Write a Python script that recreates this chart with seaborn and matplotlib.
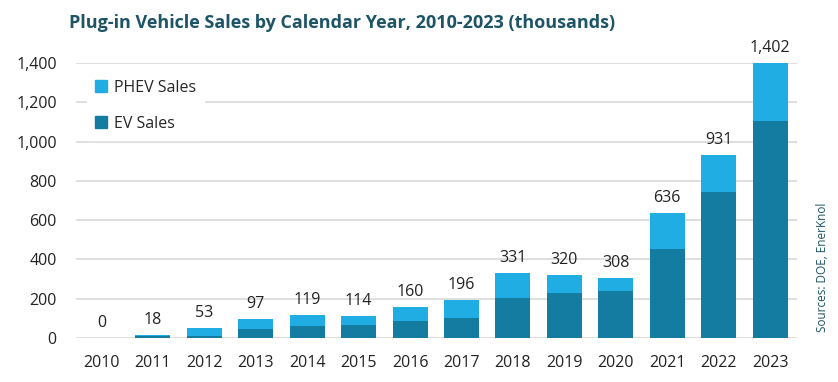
import matplotlib
matplotlib.use("Agg")
import matplotlib.pyplot as plt
import matplotlib.patches as mpatches
import seaborn as sns
import pandas as pd

years = ["2010", "2011", "2012", "2013", "2014", "2015", "2016",
         "2017", "2018", "2019", "2020", "2021", "2022", "2023"]
ev_sales = [0, 10, 9, 44, 60, 64, 86, 101, 204, 229, 238, 452, 743, 1106]
total_sales = [0, 18, 53, 97, 119, 114, 160, 196, 331, 320, 308, 636, 931, 1402]
total_labels = ["0", "18", "53", "97", "119", "114", "160", "196", "331",
                "320", "308", "636", "931", "1,402"]

phev_color = "#1fade3"
ev_color = "#147ba1"
title_color = "#1d5466"

df = pd.DataFrame({"year": years, "ev": ev_sales, "total": total_sales})

sns.set_style("white")
plt.rcParams["font.family"] = ["Open Sans", "DejaVu Sans"]

fig = plt.figure(figsize=(8.38, 3.82), dpi=100)
ax = fig.add_axes([0.091, 0.115, 0.860, 0.72])

# total bar in PHEV colour, EV drawn over it
sns.barplot(data=df, x="year", y="total", color=phev_color, width=0.68,
            saturation=1, linewidth=0, ax=ax, zorder=3)
sns.barplot(data=df, x="year", y="ev", color=ev_color, width=0.68,
            saturation=1, linewidth=0, ax=ax, zorder=4)

for i, (v, lab) in enumerate(zip(total_sales, total_labels)):
    ax.text(i, v + 35, lab, ha="center", va="bottom", fontsize=11.5, color="#222222")

ax.set_ylim(0, 1400)
ax.set_xlim(-0.49, 13.52)
ax.set_yticks(range(0, 1401, 200))
ax.set_yticklabels([f"{t:,}" for t in range(0, 1401, 200)])
ax.yaxis.grid(True, color="#d9d9d9", linewidth=1.2, zorder=0)
ax.set_axisbelow(True)
for s in ax.spines.values():
    s.set_visible(False)
ax.set_xlabel("")
ax.set_ylabel("")
ax.tick_params(axis="both", length=0, labelsize=11.5, colors="#222222")
ax.tick_params(axis="x", pad=12)
ax.tick_params(axis="y", pad=14)

handles = [mpatches.Patch(color=phev_color, label="PHEV Sales"),
           mpatches.Patch(color=ev_color, label="EV Sales")]
leg = ax.legend(handles=handles, loc="upper left", bbox_to_anchor=(0.004, 0.997),
                frameon=True, fontsize=11.5, handlelength=0.75, handleheight=0.75,
                handletextpad=0.45, labelspacing=1.25, borderpad=0.5)
leg.get_frame().set_facecolor("white")
leg.get_frame().set_edgecolor("white")
leg.get_frame().set_alpha(1)
leg.set_zorder(5)

fig.text(0.082, 0.94, "Plug-in Vehicle Sales by Calendar Year, 2010-2023 (thousands)",
         fontsize=13, fontweight="bold", color=title_color, ha="left", va="center")
fig.text(0.982, 0.30, "Sources: DOE, EnerKnol", rotation=90, fontsize=8.5,
         color=title_color, ha="center", va="center")

fig.savefig("out.png", dpi=100)
